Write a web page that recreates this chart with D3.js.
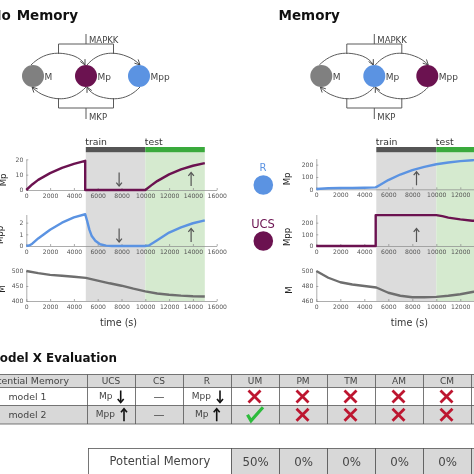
<!DOCTYPE html>
<html><head><meta charset="utf-8">
<style>html,body{margin:0;padding:0;background:#fff;overflow:hidden}svg{display:block;filter:blur(0.45px)}text{font-family:"DejaVu Sans",sans-serif}</style>
<script src="https://cdn.jsdelivr.net/npm/d3@7"></script></head><body>
<svg id="c" width="474" height="474"></svg>
<script>
const GREY="#808080",PURPLE="#6b1250",BLUE="#5b93e2";
const xTicks=[0,2000,4000,6000,8000,10000,12000,14000,16000];
const leftMp=[[0,0],[500,3.6],[1000,6.6],[2000,11],[3000,14.4],[4000,17],[4950,19],[4950,0],[10000,0],[10500,3],[11000,5.8],[12000,10.2],[13000,13.4],[14000,15.8],[15000,17.5]];
const leftMpp=[[0,0],[250,.05],[500,.2],[1000,.65],[2000,1.4],[3000,2],[4000,2.45],[4950,2.72],[5100,2.2],[5300,1.4],[5500,.85],[5800,.45],[6200,.15],[6700,.03],[7200,0],[10000,0],[10300,.05],[10700,.3],[11000,.5],[12000,1.15],[13000,1.6],[14000,1.95],[15000,2.2]];
const leftM=[[0,500],[1000,493],[2000,487],[3000,484],[4000,481],[5000,477],[6000,468],[7000,459],[8000,451],[9000,441],[10000,432],[11000,425],[12000,421],[13000,418],[14000,416],[15000,415]];
const rightMp=[[0,2],[1000,8],[2000,10],[3000,11],[4000,13],[4950,16],[5300,35],[6000,75],[7000,120],[8000,155],[9000,182],[10000,203],[11000,218],[12000,229],[13000,236],[14000,241],[15000,244]];
const rightMpp=[[0,0],[4950,0],[4950,265],[10000,265],[10500,256],[11000,243],[12000,228],[13000,217],[14000,210],[15000,203]];
const rightM=[[0,500],[1000,491],[2000,485],[3000,482],[4000,480],[5000,478],[6000,471],[7000,467],[8000,465],[9000,465],[10000,465.5],[11000,467],[12000,469],[13000,472],[14000,475],[15000,477]];
const phaseBands=[{name:"train",from:5000,to:10000},{name:"test",from:10000,to:15000}];
const tableHeader=["Potential Memory","UCS","CS","R","UM","PM","TM","AM","CM"];
const model1=["model 1",["Mp","down"],"—",["Mpp","down"],"x","x","x","x","x"];
const model2=["model 2",["Mpp","up"],"—",["Mp","up"],"v","x","x","x","x"];
const potentialLabel="Potential Memory";
const potentialValues=["50%","0%","0%","0%","0%"];

const svg=d3.select("#c");
const panels=[
 {x0:26.3,title:"No Memory",titleX:-9.8,wordGap:1.2,diagramX:86,diagramColors:[GREY,PURPLE,BLUE],
  plots:[
   {label:"Mp",data:leftMp,color:PURPLE,domain:[0,20],range:[190,159.3],ticks:[0,10,20],arrows:[[7800,"down"],[13850,"up"]],labelX:5.5,labelY:180},
   {label:"Mpp",data:leftMpp,color:BLUE,domain:[0,2.7],range:[246,214.5],ticks:[0,1,2],arrows:[[7800,"down"],[13850,"up"]],labelX:2.5,labelY:235},
   {label:"M",data:leftM,color:"#6e6e6e",domain:[400,500],range:[301,271],ticks:[400,450,500],arrows:[],labelX:4.7,labelY:289}]},
 {x0:316.3,title:"Memory",titleX:278.5,wordGap:0,diagramX:374.3,diagramColors:[GREY,BLUE,PURPLE],
  plots:[
   {label:"Mp",data:rightMp,color:BLUE,domain:[0,250],range:[189.3,158.5],ticks:[0,100,200],arrows:[[8350,"up"]],labelX:290.3,labelY:179},
   {label:"Mpp",data:rightMpp,color:PURPLE,domain:[0,270],range:[246,214.5],ticks:[0,100,200],arrows:[[8350,"up"]],labelX:290.3,labelY:237},
   {label:"M",data:rightM,color:"#6e6e6e",domain:[460,500],range:[301,271],ticks:[460,480,500],arrows:[],labelX:292,labelY:290}]}
];

svg.append("defs").append("marker").attr("id","ah").attr("viewBox","0 0 8 8").attr("refX",7).attr("refY",4)
 .attr("markerWidth",7).attr("markerHeight",7).attr("markerUnits","userSpaceOnUse").attr("orient","auto")
 .append("path").attr("d","M1,1L7,4L1,7").attr("fill","none").attr("stroke","#444").attr("stroke-width",1);

function diagram(cx,colors){
 const g=svg.append("g").attr("transform",`translate(${cx},0)`);
 const line="#5a5a5a";
 const p=g.append("g").attr("fill","none").attr("stroke",line).attr("stroke-width",1);
 p.append("path").attr("d","M0,34V44M-27.5,54V44H27.5V54");
 p.append("path").attr("d","M0,119V108M-27.5,98V108H27.5V98");
 p.append("path").attr("d","M-55,65C-42,52 -27,51 -12,56C-7,58 -3,61 -1,65").attr("marker-end","url(#ah)");
 p.append("path").attr("d","M1,65C12,52 27,51 40,56C46,58 50,61 54,65").attr("marker-end","url(#ah)");
 p.append("path").attr("d","M0,87C-12,100 -27,101 -40,96C-46,94 -50,91 -54,87").attr("marker-end","url(#ah)");
 p.append("path").attr("d","M54,87C42,100 27,101 12,96C7,94 3,91 1,87").attr("marker-end","url(#ah)");
 const xs=[-53,0,53],names=["M","Mp","Mpp"];
 g.selectAll("circle").data(colors).join("circle").attr("cx",(d,i)=>xs[i]).attr("cy",76).attr("r",11).attr("fill",d=>d);
 g.selectAll("text.n").data(names).join("text").attr("class","n").attr("x",(d,i)=>xs[i]+11.5).attr("y",79.5)
  .attr("font-size",9).attr("fill","#444").text(d=>d);
 g.append("text").attr("x",3).attr("y",42.5).attr("font-size",8.5).attr("fill","#444").text("MAPKK");
 g.append("text").attr("x",3).attr("y",119.5).attr("font-size",8.5).attr("fill","#444").text("MKP");
}

function vArrow(g,x,y1,y2,color,w,head){
 const dir=y2>y1?1:-1;
 g.append("path").attr("d",`M${x},${y1}V${y2-dir}`).attr("stroke",color).attr("stroke-width",w).attr("fill","none");
 g.append("path").attr("d",`M${x-head},${y2-dir*head*1.2}L${x},${y2}L${x+head},${y2-dir*head*1.2}`).attr("stroke",color).attr("stroke-width",w).attr("fill","none");
}

panels.forEach(P=>{
 svg.append("text").attr("x",P.titleX).attr("y",20).attr("font-size",13.5).attr("font-weight","bold").attr("word-spacing",P.wordGap).attr("fill","#111").text(P.title);
 diagram(P.diagramX,P.diagramColors);
 const x=d3.scaleLinear().domain([0,16000]).range([P.x0,P.x0+(P===panels[0]?190.4:192)]);
 phaseBands.forEach((b,i)=>{
  const c=i===0?["#dcdcdc","#555555"]:["#d5eacf","#3aaa3c"];
  svg.append("rect").attr("x",x(b.from)).attr("y",152).attr("width",x(b.to)-x(b.from)).attr("height",149).attr("fill",c[0]);
  svg.append("rect").attr("x",x(b.from)).attr("y",147).attr("width",x(b.to)-x(b.from)).attr("height",5.2).attr("fill",c[1]);
  svg.append("text").attr("x",x(b.from)-.5).attr("y",144.5).attr("font-size",9.3).attr("fill","#333").text(b.name);
 });
 P.plots.forEach(pl=>{
  const y=d3.scaleLinear().domain(pl.domain).range(pl.range);
  const g=svg.append("g");
  const ax=g.append("g").attr("transform",`translate(0,${pl.range[0]})`)
    .call(d3.axisBottom(x).tickValues(xTicks).tickFormat(d3.format("d")).tickSize(-2).tickSizeOuter(0).tickPadding(3.5));
  const ay=g.append("g").attr("transform",`translate(${P.x0},0)`)
    .call(d3.axisLeft(y).tickValues(pl.ticks).tickFormat(d3.format("d")).tickSize(-2).tickSizeOuter(0).tickPadding(3));
  [ax,ay].forEach(a=>{a.selectAll("path,line").attr("stroke","#8a8a8a").attr("stroke-width",.7);
   a.selectAll("text").attr("font-size",6.1).attr("fill","#555").attr("font-family",'"DejaVu Sans",sans-serif');});
  g.append("path").attr("d",d3.line().x(d=>x(d[0])).y(d=>y(d[1])).curve(d3.curveLinear)(pl.data))
   .attr("fill","none").attr("stroke",pl.color).attr("stroke-width",2.4).attr("stroke-linejoin","round");
  pl.arrows.forEach(a=>{
   const yTop=pl.range[0]-17.5,yBot=pl.range[0]-4;
   if(a[1]==="down")vArrow(g,x(a[0]),yTop,yBot,"#555",1.2,2.8); else vArrow(g,x(a[0]),yBot,yTop,"#555",1.2,2.8);
  });
  svg.append("text").attr("transform",`translate(${pl.labelX},${pl.labelY}) rotate(-90)`).attr("text-anchor","middle")
   .attr("font-size",8.5).attr("fill","#222").text(pl.label);
 });
 svg.append("text").attr("x",x(7750)).attr("y",326).attr("text-anchor","middle").attr("font-size",9.6).attr("fill","#333").text("time (s)");
});

// legend between panels
svg.append("text").attr("x",263).attr("y",170.7).attr("text-anchor","middle").attr("font-size",10).attr("fill",BLUE).text("R");
svg.append("circle").attr("cx",263.3).attr("cy",185).attr("r",9.8).attr("fill",BLUE);
svg.append("text").attr("x",263).attr("y",228).attr("text-anchor","middle").attr("font-size",11.5).attr("fill",PURPLE).text("UCS");
svg.append("circle").attr("cx",263.3).attr("cy",241).attr("r",9.8).attr("fill",PURPLE);

// evaluation table
svg.append("text").attr("x",-12).attr("y",362.3).attr("font-size",11.9).attr("font-weight","bold").attr("fill","#111").text("Model X Evaluation");
const colX=d3.scaleLinear().domain([0,8]).range([87.5,471.5]);
const rowY=[374.5,387.5,405.5,424];
const T=svg.append("g");
const fills=["#d8d8d8","#fff","#d8d8d8"];
fills.forEach((f,i)=>T.append("rect").attr("x",-1).attr("y",rowY[i]).attr("width",476).attr("height",rowY[i+1]-rowY[i]).attr("fill",f));
function cellX(i){return colX(i-1)+24;}
tableHeader.forEach((h,i)=>{
 const t=T.append("text").attr("y",384).attr("font-size",9).attr("fill","#444");
 if(i===0)t.attr("x",69).attr("text-anchor","end").attr("font-size",9.4).text(h);
 else t.attr("x",cellX(i)-.5).attr("text-anchor","middle").text(h);
});
[model1,model2].forEach((row,r)=>{
 const cy=(rowY[r+1]+rowY[r+2])/2;
 row.forEach((c,i)=>{
  if(i===0){T.append("text").attr("x",27.5).attr("y",cy+3).attr("text-anchor","middle").attr("font-size",9.4).attr("fill","#444").text(c);return;}
  const cx=cellX(i);
  if(Array.isArray(c)){
   const wide=c[0]==="Mpp";
   T.append("text").attr("x",cx+(wide?3.5:1)).attr("y",cy+2.2).attr("text-anchor","end").attr("font-size",9).attr("fill","#444").text(c[0]);
   const ax=cx+(wide?12.5:9.2);
   if(c[1]==="down")vArrow(T,ax,cy-6,cy+6,"#111",1.6,3); else vArrow(T,ax,cy+6.5,cy-6,"#111",1.6,3);
  } else if(c==="—"){
   T.append("text").attr("x",cx-.5).attr("y",cy+3).attr("text-anchor","middle").attr("font-size",11).attr("fill","#444").text(c);
  } else if(c==="x"){
   T.append("path").attr("d",`M${cx-7},${cy-6}L${cx+5},${cy+6}M${cx+5},${cy-6}L${cx-7},${cy+6}`).attr("stroke","#bd1630").attr("stroke-width",2.8).attr("fill","none");
  } else {
   T.append("path").attr("d",`M${cx-8},${cy}L${cx-4.5},${cy+6}L${cx+7.5},${cy-7.5}`).attr("stroke","#2dbb3c").attr("stroke-width",3.2).attr("fill","none");
  }
 });
});
const gridC="#555";
rowY.forEach(y=>T.append("line").attr("x1",-1).attr("x2",475).attr("y1",y).attr("y2",y).attr("stroke",gridC).attr("stroke-width",.8));
d3.range(0,9).forEach(i=>T.append("line").attr("x1",colX(i)).attr("x2",colX(i)).attr("y1",rowY[0]).attr("y2",rowY[3]).attr("stroke",gridC).attr("stroke-width",.8));

// potential memory table
const B=svg.append("g");
const by=448.5;
B.append("rect").attr("x",88.5).attr("y",by).attr("width",143).attr("height",30).attr("fill","#fff").attr("stroke",gridC).attr("stroke-width",.8);
potentialValues.forEach((v,i)=>{
 B.append("rect").attr("x",colX(3+i)).attr("y",by).attr("width",48).attr("height",30).attr("fill","#d8d8d8").attr("stroke",gridC).attr("stroke-width",.8);
 B.append("text").attr("x",colX(3+i)+24).attr("y",465.5).attr("text-anchor","middle").attr("font-size",11.8).attr("fill","#444").text(v);
});
B.append("rect").attr("x",colX(8)).attr("y",by).attr("width",10).attr("height",30).attr("fill","#d8d8d8").attr("stroke",gridC).attr("stroke-width",.8);
B.append("text").attr("x",160).attr("y",464.5).attr("text-anchor","middle").attr("font-size",11.5).attr("fill","#444").text(potentialLabel);
</script></body></html>
